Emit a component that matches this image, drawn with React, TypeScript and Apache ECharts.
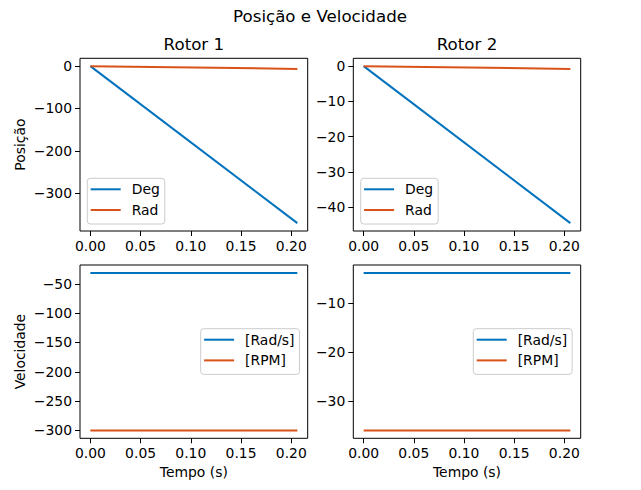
import React, { useEffect, useRef } from "react";
import * as echarts from "echarts";

// Time samples (s)
const tempo = [0, 0.206];

// Position traces
const rotor1Deg = [0, -370.8];
const rotor1Rad = [0, -6.47];
const rotor2Deg = [0, -44.5];
const rotor2Rad = [0, -0.777];

// Velocity traces
const rotor1RadS = [-31.42, -31.42];
const rotor1Rpm = [-300, -300];
const rotor2RadS = [-3.77, -3.77];
const rotor2Rpm = [-36, -36];

// Tick values
const xTicks = [0, 0.05, 0.1, 0.15, 0.2];
const pos1Ticks = [0, -100, -200, -300];
const pos2Ticks = [0, -10, -20, -30, -40];
const vel1Ticks = [-50, -100, -150, -200, -250, -300];
const vel2Ticks = [-10, -20, -30];

const BLUE = "#0072BD";
const ORANGE = "#D95319";
const FONT = "DejaVu Sans";
const TICK_FS = 13.9;
const TITLE_FS = 16.67;

// 5% padding around the data extent, like the default autoscaling
function padded(values: number[][]) {
  const all = values.flat();
  const lo = Math.min(...all);
  const hi = Math.max(...all);
  const m = (hi - lo) * 0.05;
  return [lo - m, hi + m];
}

const pairs = (xs: number[], ys: number[]) => xs.map((x, i) => [x, ys[i]]);

export default function App() {
  const ref = useRef<HTMLDivElement>(null);

  useEffect(() => {
    if (!ref.current) return;
    const chart = echarts.init(ref.current, null, { renderer: "svg" });

    const grids = [
      { left: 80, top: 58.3, width: 227.7, height: 172.7 },
      { left: 353.3, top: 58.3, width: 227.4, height: 172.7 },
      { left: 80, top: 265, width: 227.7, height: 173.3 },
      { left: 353.3, top: 265, width: 227.4, height: 173.3 },
    ].map((g) => ({
      ...g,
      show: true,
      borderColor: "#000",
      borderWidth: 1,
      backgroundColor: "transparent",
    }));

    const [xMin, xMax] = padded([tempo]);
    const yRanges = [
      padded([rotor1Deg, rotor1Rad]),
      padded([rotor2Deg, rotor2Rad]),
      padded([rotor1RadS, rotor1Rpm]),
      padded([rotor2RadS, rotor2Rpm]),
    ];
    const yTicks = [pos1Ticks, pos2Ticks, vel1Ticks, vel2Ticks];

    const labelStyle = { fontFamily: FONT, fontSize: TICK_FS, color: "#000" };

    const xAxis = grids.map((_, i) => ({
      type: "value",
      gridIndex: i,
      min: xMin,
      max: xMax,
      axisLine: { show: false, onZero: false },
      splitLine: { show: false },
      axisTick: {
        show: true,
        length: 5,
        lineStyle: { color: "#000", width: 1 },
        customValues: xTicks,
      },
      axisLabel: {
        ...labelStyle,
        margin: 8,
        customValues: xTicks,
        formatter: (v: number) => v.toFixed(2),
      },
    }));

    const yAxis = grids.map((_, i) => ({
      type: "value",
      gridIndex: i,
      min: yRanges[i][0],
      max: yRanges[i][1],
      axisLine: { show: false, onZero: false },
      splitLine: { show: false },
      axisTick: {
        show: true,
        length: 5,
        lineStyle: { color: "#000", width: 1 },
        customValues: yTicks[i],
      },
      axisLabel: {
        ...labelStyle,
        margin: 8,
        customValues: yTicks[i],
        formatter: (v: number) => String(Math.round(v)).replace("-", "\u2212"),
      },
    }));

    const line = (name: string, color: string, idx: number, ys: number[]) => ({
      type: "line",
      name,
      xAxisIndex: idx,
      yAxisIndex: idx,
      data: pairs(tempo, ys),
      symbol: "none",
      lineStyle: { color, width: 2 },
      itemStyle: { color },
    });

    const series = [
      line("Deg", BLUE, 0, rotor1Deg),
      line("Rad", ORANGE, 0, rotor1Rad),
      line("Deg", BLUE, 1, rotor2Deg),
      line("Rad", ORANGE, 1, rotor2Rad),
      line("[Rad/s]", BLUE, 2, rotor1RadS),
      line("[RPM]", ORANGE, 2, rotor1Rpm),
      line("[Rad/s]", BLUE, 3, rotor2RadS),
      line("[RPM]", ORANGE, 3, rotor2Rpm),
    ];

    const legendBase = {
      orient: "vertical",
      icon: "path://M0,0H30V2H0Z",
      itemWidth: 30,
      itemHeight: 14,
      itemGap: 6.7,
      padding: [4, 5, 7, 3.4],
      backgroundColor: "rgba(255,255,255,0.8)",
      borderColor: "#cccccc",
      borderWidth: 1,
      borderRadius: 3,
      selectedMode: false,
      textStyle: { ...labelStyle, padding: [0, 0, 0, 6] },
    };

    const legend = [
      { ...legendBase, left: 87.3, top: 178.3, data: ["Deg", "Rad"] },
      { ...legendBase, left: 360.7, top: 178.3, data: ["Deg", "Rad"] },
      { ...legendBase, left: 200.7, top: 328.7, data: ["[Rad/s]", "[RPM]"] },
      { ...legendBase, left: 473.3, top: 328.7, data: ["[Rad/s]", "[RPM]"] },
    ];

    const txt = (text: string, x: number, y: number, size: number, rotation = 0) => ({
      type: "text",
      x,
      y,
      rotation,
      style: {
        text,
        fontFamily: FONT,
        fontSize: size,
        fill: "#000",
        textAlign: "center",
        textVerticalAlign: "middle",
      },
    });

    const graphic = [
      txt("Posição e Velocidade", 320, 16, TITLE_FS),
      txt("Rotor 1", 193.85, 44.5, TITLE_FS),
      txt("Rotor 2", 467, 44.5, TITLE_FS),
      txt("Posição", 20, 144.6, TICK_FS, Math.PI / 2),
      txt("Velocidade", 20, 351.6, TICK_FS, Math.PI / 2),
      txt("Tempo (s)", 193.85, 472, TICK_FS),
      txt("Tempo (s)", 467, 472, TICK_FS),
    ];

    chart.setOption({
      animation: false,
      backgroundColor: "#fff",
      grid: grids,
      xAxis,
      yAxis,
      series,
      legend,
      graphic,
    });

    return () => chart.dispose();
  }, []);

  return (
    <div
      ref={ref}
      style={{ position: "absolute", left: 0, top: 0, width: 640, height: 480 }}
    />
  );
}
